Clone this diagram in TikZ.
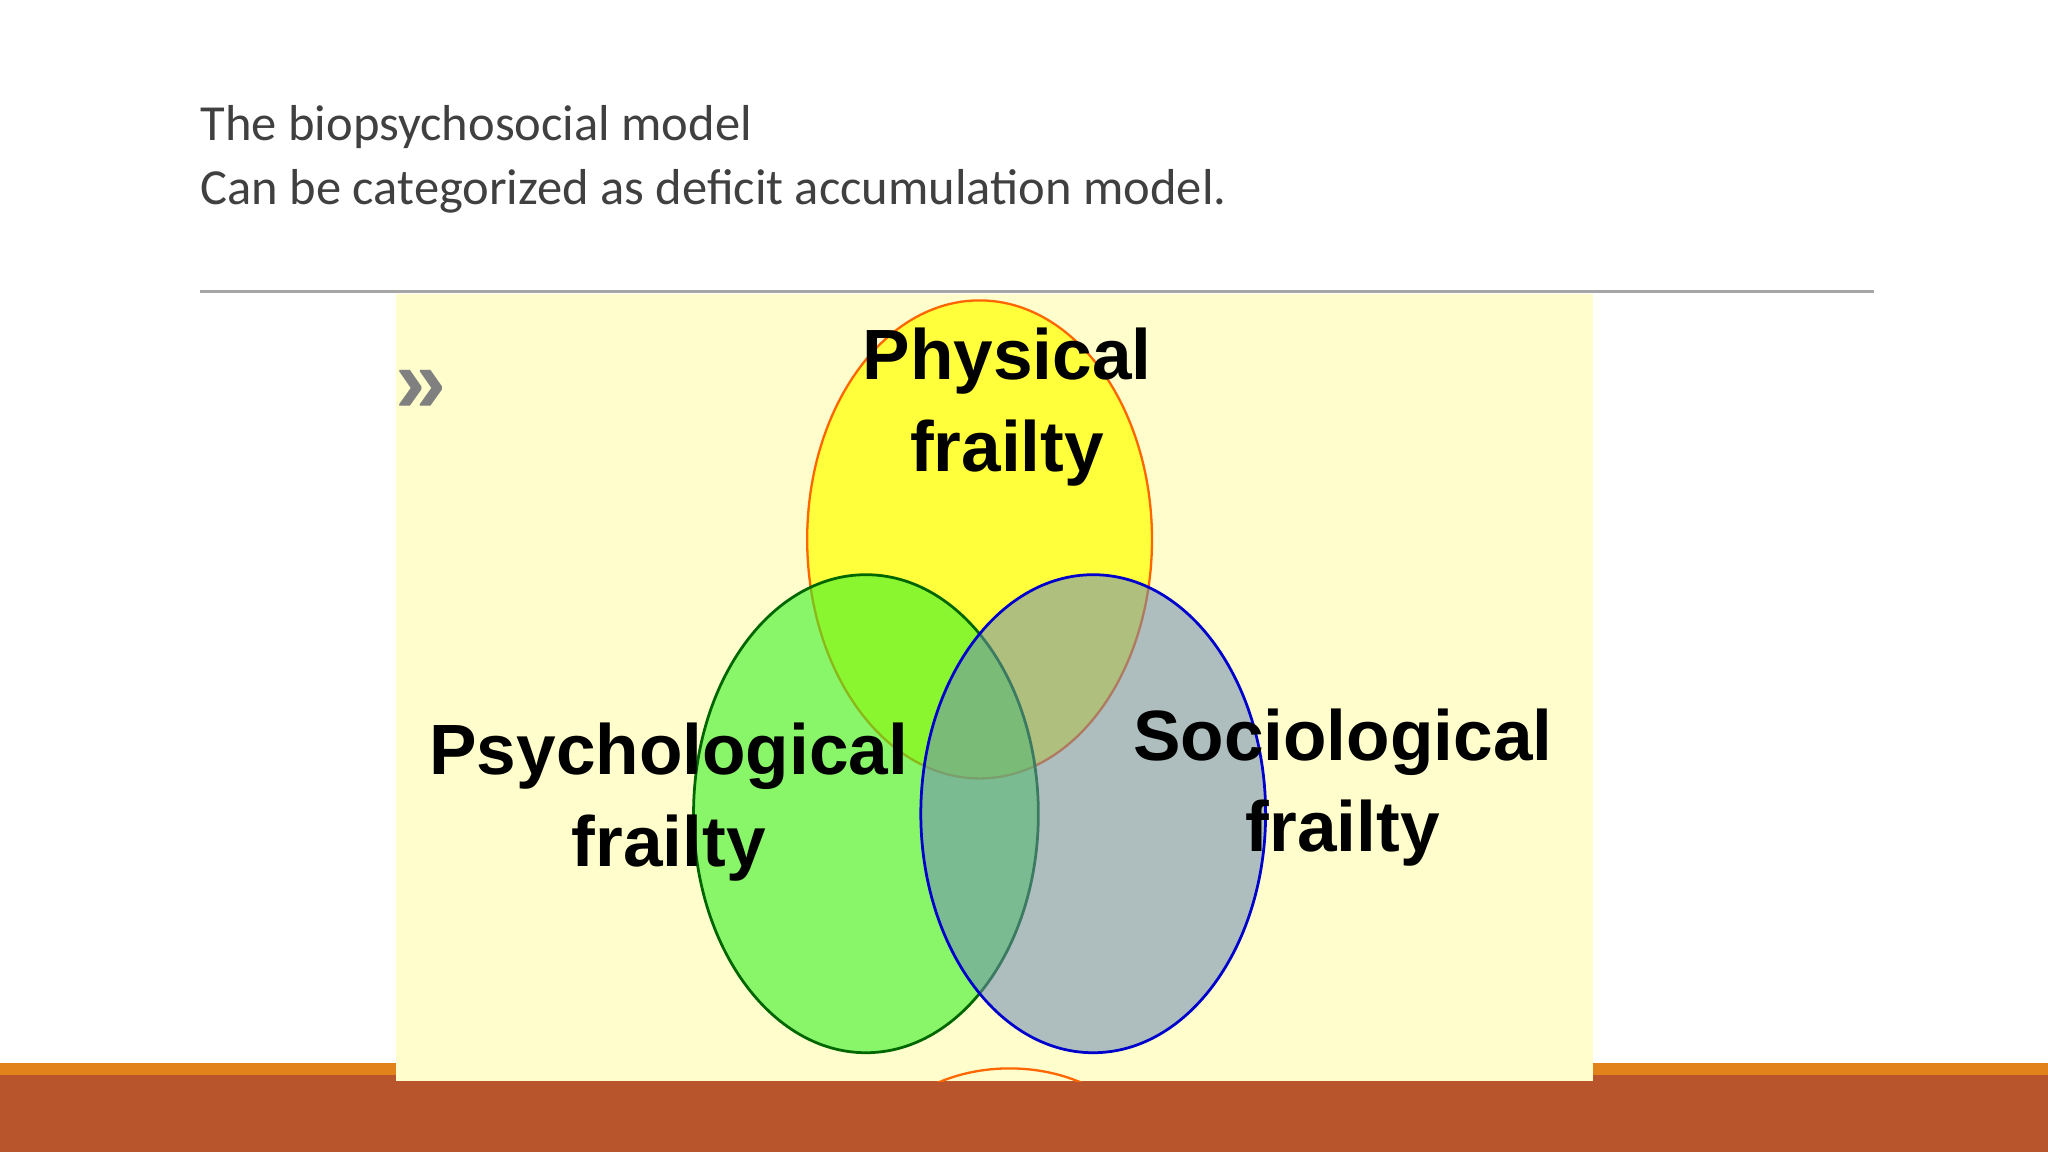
\documentclass[tikz,border=0pt]{standalone}
\usepackage{fontspec}
\setmainfont{Carlito}
\newfontfamily\arialb{Liberation Sans}
\definecolor{titlegray}{HTML}{404040}
\definecolor{bgyellow}{HTML}{FEFDCB}
\definecolor{barorange}{HTML}{E2821A}
\definecolor{barrust}{HTML}{B8552C}
\tikzset{lbl/.style={font=\arialb\bfseries\fontsize{15.5}{18}\selectfont, text=black, align=center, inner sep=0pt}}
\begin{document}
\begin{tikzpicture}[x=0.01cm,y=-0.01cm]
\useasboundingbox (0,0) rectangle (1568,882);
\fill[white] (0,0) rectangle (1568,882);
\node[anchor=west, text=titlegray, font=\fontsize{11}{14}\selectfont, align=left, inner sep=0pt] (title) at (153,122) {The biopsychosocial model\\Can be categorized as deficit accumulation model.};
\draw[gray!70, line width=0.6pt] (153,223) -- (1435,223);
\fill[barorange] (0,814) rectangle (1568,823);
\fill[barrust] (0,823) rectangle (1568,882);
\fill[bgyellow] (303,225) rectangle (1220,828);
\begin{scope}
\clip (303,225) rectangle (1220,828);
\draw[orange!80!red, line width=0.5pt] (773,900) ellipse [x radius=110, y radius=82];
\end{scope}
\node[text=gray, font=\arialb\bfseries\fontsize{20}{20}\selectfont, inner sep=0pt] (chev) at (322,300) {»};
\draw[fill={rgb,255:red,255;green,255;blue,60}, draw=orange!80!red, line width=0.5pt] (750,413) ellipse [x radius=132, y radius=183];
\draw[fill={rgb,255:red,60;green,240;blue,40}, fill opacity=0.6, draw=green!40!black, line width=0.6pt] (663,623) ellipse [x radius=132, y radius=183];
\draw[fill={rgb,255:red,110;green,140;blue,180}, fill opacity=0.55, draw=blue!80!black, line width=0.6pt] (837,623) ellipse [x radius=132, y radius=183];
\node[lbl] (phys) at (771,312) {Physical\\[2pt]frailty};
\node[lbl] (psych) at (512,614) {Psychological\\[2pt]frailty};
\node[lbl] (socio) at (1028,603) {Sociological\\[2pt]frailty};
\end{tikzpicture}
\end{document}
